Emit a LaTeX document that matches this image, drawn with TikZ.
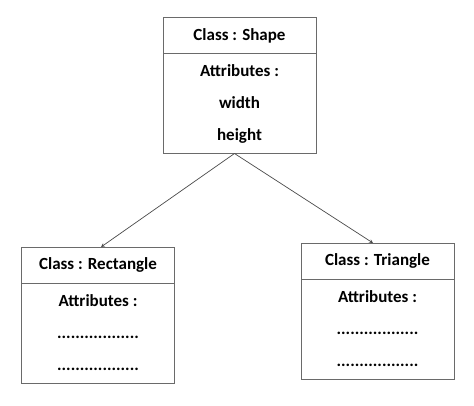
\documentclass[tikz,border=0pt]{standalone}
\usepackage{fontspec}
\setmainfont{Carlito}
\usetikzlibrary{positioning}
\definecolor{BoxLine}{HTML}{6A6A6A}
\definecolor{ArrowLine}{HTML}{4A4A4A}

\begin{document}
\begin{tikzpicture}[>=stealth,x=1pt,y=-1pt,node distance=0pt]
  \tikzstyle{ctitle}=[draw=BoxLine,line width=0.9pt,outer sep=0pt,
    inner sep=0pt,minimum width=153pt,minimum height=36pt,
    font=\bfseries\fontsize{17}{19}\selectfont]
  \tikzstyle{cbody}=[draw=BoxLine,line width=0.9pt,outer sep=0pt,
    inner sep=0pt,minimum width=153pt,minimum height=100pt,align=center,
    font=\bfseries\fontsize{17}{32}\selectfont]
  \useasboundingbox (0,0) rectangle (474,405);
  \node[ctitle] (shapetitle) at (239.5,35.5) {Class : Shape};
  \node[cbody,below=of shapetitle] (shapebody) {Attributes :\\width\\height};
  \node[ctitle] (recttitle) at (98,265) {Class : Rectangle};
  \node[cbody,below=of recttitle] (rectbody)
    {Attributes :\\..................\\..................};
  \node[ctitle] (trititle) at (377.5,261) {Class : Triangle};
  \node[cbody,below=of trititle] (tribody)
    {Attributes :\\..................\\..................};
  \draw[->,color=ArrowLine,line width=0.7pt] ([xshift=-5pt]shapebody.south)--([xshift=3pt]recttitle.north);
  \draw[->,color=ArrowLine,line width=0.7pt] ([xshift=-5pt]shapebody.south)--([xshift=-4.5pt]trititle.north);
\end{tikzpicture}
\end{document}
